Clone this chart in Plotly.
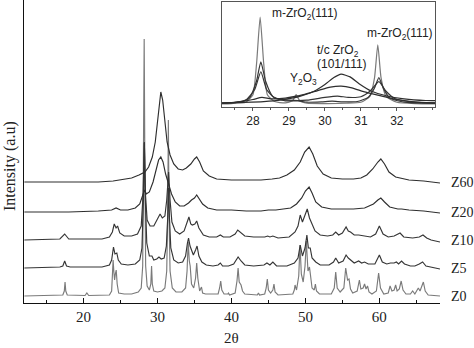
import plotly.graph_objects as go

# XRD patterns: (2theta, intensity above each pattern's own baseline, a.u.)
z0_pts = [(12.0,0),(16.5,0.5),(17.2,1),(17.4,5),(17.5,14),(17.6,5),(17.8,1),
          (20.2,0.5),(20.45,3),(20.7,0.5),
          (23.5,1),(23.8,5),(23.93,25),(24.0,36),(24.1,24),(24.2,16),(24.3,22),(24.42,26),(24.55,12),(24.75,3),
          (25.5,2),(26.5,2),(27.4,4),(27.8,8),(28.0,30),(28.1,120),(28.2,257),(28.3,120),(28.4,30),(28.6,10),(28.9,6),
          (29.1,12),(29.2,30),(29.3,12),(29.5,5),(30.0,4),(30.6,5),(31.0,8),(31.25,25),(31.38,80),(31.47,176),(31.56,80),
          (31.7,25),(32.0,8),(32.5,4),(33.3,4),
          (33.8,8),(34.0,25),(34.15,54),(34.3,35),(34.42,30),(34.6,12),(34.9,8),(35.15,18),(35.3,33),(35.45,18),(35.7,5),
          (35.95,9),(36.1,3),(36.5,2),
          (38.2,2),(38.4,8),(38.55,15),(38.7,6),(39.0,2),(39.5,2),(39.6,3),(39.75,1),
          (40.5,3),(40.75,15),(40.9,28),(41.05,14),(41.3,11),(41.5,5),(41.8,2),(43.5,1),(43.65,3),(43.8,1),
          (44.5,2),(44.7,8),(44.85,17),(45.0,6),(45.3,3),(45.6,6),(45.75,12),(45.9,4),(46.3,1),
          (48.3,2),(48.5,6),(48.6,11),(48.8,6),(49.1,20),(49.27,51),(49.45,22),(49.7,14),(49.95,30),(50.12,55),(50.35,25),
          (50.55,29),(50.7,20),(50.9,8),(51.2,6),(51.35,12),(51.5,5),(51.9,2),(53.5,2),
          (53.9,8),(54.1,24),(54.3,8),(54.7,4),(55.2,8),(55.45,28),(55.7,16),(55.9,17),(56.1,7),(56.4,3),(57.0,5),(57.3,16),
          (57.5,7),(57.8,8),(58.0,12),(58.2,7),(58.4,10),(58.6,4),(59.0,2),(59.6,5),(59.9,23),(60.15,8),(60.6,2),
          (61.2,3),(61.45,10),(61.7,5),(62.0,6),(62.2,11),(62.4,5),(62.7,7),(62.95,15),(63.2,6),(63.6,2),(64.2,2),(64.5,5),
          (64.8,2),(65.1,6),(65.27,8),(65.5,5),(65.75,10),(65.95,14),(66.2,5),(66.6,1),(68.2,0)]

z5_pts = [(12.0,0),(16.8,1),(17.2,2),(17.45,7),(17.7,2),(18.2,1),(22.5,1),(23.5,3),(23.8,8),(24.05,21),(24.25,14),
          (24.5,15),(24.7,8),(25.1,4),(26.0,3),(27.0,4),(27.6,8),(27.9,20),(28.1,70),(28.22,126),(28.35,70),(28.55,25),
          (28.9,12),(29.25,12),(29.5,8),(29.9,9),(30.2,11),(30.5,9),(30.9,10),(31.2,22),(31.38,50),(31.5,80),(31.62,50),
          (31.8,20),(32.2,8),(32.8,5),(33.4,6),(33.8,12),(34.05,25),(34.2,30),(34.4,22),(34.6,18),(34.85,13),(35.15,18),
          (35.35,22),(35.6,12),(36.0,6),(36.6,3),(37.5,2),(38.2,3),(38.5,5),(38.8,2),(39.6,2),(40.3,4),(40.7,9),(40.9,11),
          (41.3,7),(41.8,3),(43.0,2),(44.4,3),(44.8,5),(45.2,3),(45.6,6),(46.1,2),(47.5,2),(48.5,5),(49.0,10),(49.3,23),
          (49.6,12),(49.95,20),(50.2,33),(50.4,20),(50.65,20),(50.9,10),(51.4,6),(52.0,3),(53.2,3),(53.8,6),(54.1,10),
          (54.5,5),(55.1,7),(55.5,13),(55.8,10),(56.1,8),(56.6,5),(57.2,7),(57.6,5),(58.0,6),(58.5,4),(59.4,4),(59.8,10),
          (60.0,13),(60.4,6),(61.0,4),(61.5,5),(62.0,5),(62.3,6),(62.6,4),(63.0,7),(63.4,4),(64.2,2),(64.8,2),(65.4,4),
          (65.85,6),(66.3,2),(67.0,1),(68.2,-1)]

z10_pts = [(12.0,0),(16.8,1),(17.45,6),(18.0,1),(22.5,1),(23.5,3),(23.9,8),(24.15,16),(24.4,12),(24.6,14),(24.9,7),
           (25.5,4),(26.5,4),(27.3,6),(27.8,14),(28.05,45),(28.22,97),(28.38,45),(28.6,20),(29.0,14),(29.5,14),(30.0,22),
           (30.35,26),(30.65,22),(31.0,24),(31.25,40),(31.5,68),(31.7,40),(31.95,18),(32.4,9),(33.0,6),(33.6,9),(34.0,18),
           (34.25,23),(34.5,16),(34.7,15),(35.05,16),(35.3,19),(35.6,12),(36.2,5),(37.0,3),(38.0,3),(38.5,5),(38.9,3),
           (39.8,3),(40.5,6),(40.85,10),(41.3,7),(41.8,4),(43.0,3),(44.5,3),(44.9,4),(45.2,3),(45.6,4),(46.3,2),(47.8,3),
           (48.6,8),(49.0,14),(49.3,25),(49.6,18),(50.0,25),(50.25,31),(50.55,22),(50.8,17),(51.3,9),(52.0,5),(53.0,4),
           (53.7,5),(54.1,8),(54.5,5),(55.0,7),(55.5,13),(55.8,9),(56.1,8),(56.6,5),(57.2,5),(58.0,4),(58.8,3),(59.5,6),
           (60.0,14),(60.5,6),(61.2,3),(62.0,4),(62.8,7),(63.3,3),(64.5,2),(65.4,3),(65.9,5),(66.4,2),(67.0,0),(68.2,-2)]

z20_pts = [(12.0,0),(18.0,0),(22.0,1),(23.8,2),(24.4,4),(25.0,2),(26.0,2),(27.0,4),(27.6,8),(28.0,16),(28.25,22),
           (28.5,18),(28.9,20),(29.4,30),(29.8,42),(30.15,52),(30.45,55),(30.75,50),(31.1,38),(31.5,28),(31.9,18),
           (32.4,10),(33.0,6),(33.6,6),(34.2,9),(34.6,12),(35.0,14),(35.3,17),(35.6,14),(36.1,8),(36.8,4),(38.0,2),
           (40.0,2),(42.0,1),(44.0,1),(45.0,2),(46.0,2),(47.0,3),(48.0,4),(48.8,8),(49.5,14),(50.0,21),(50.5,25),
           (50.9,19),(51.4,10),(52.2,5),(53.5,3),(55.0,3),(56.5,3),(58.0,4),(59.2,8),(59.8,12),(60.2,14),(60.7,10),
           (61.4,5),(62.5,3),(63.0,3),(64.0,2),(66.0,1),(68.2,-1)]

z60_pts = [(12.0,0),(18.0,0),(22.0,0),(24.0,1),(25.5,3),(26.5,4),(27.5,7),(28.3,10),(28.8,15),(29.3,25),(29.7,40),
           (30.0,60),(30.25,80),(30.45,90),(30.7,82),(30.95,62),(31.3,40),(31.7,27),(32.2,18),(32.8,13),(33.4,12),
           (33.9,14),(34.5,18),(35.0,23),(35.3,25),(35.7,20),(36.2,11),(37.0,6),(38.0,3),(40.0,2),(42.0,2),(44.0,2),
           (45.5,3),(46.5,4),(47.5,7),(48.5,12),(49.3,20),(49.9,30),(50.5,35),(51.0,28),(51.6,16),(52.4,8),(53.5,4),
           (55.0,3),(56.5,3),(57.5,4),(58.3,7),(59.1,13),(59.8,20),(60.2,23),(60.7,18),(61.3,10),(62.2,5),(63.0,4),
           (64.0,2),(66.0,1),(68.2,-1)]

samples = ["Z0", "Z5", "Z10", "Z20", "Z60"]
patterns = [z0_pts, z5_pts, z10_pts, z20_pts, z60_pts]
stack_offsets = [7, 35, 63, 91, 121]
line_colors = ["#7a7a7a", "#353535", "#353535", "#2e2e2e", "#2e2e2e"]

inset_ticks = [28, 29, 30, 31, 32]
main_ticks = [20, 30, 40, 50, 60]

serif = "Liberation Serif"
sans = "Liberation Sans"

fig = go.Figure()

# stacked patterns in the main panel
for name, pts, off, col in zip(samples, patterns, stack_offsets, line_colors):
    fig.add_trace(go.Scatter(
        x=[p[0] for p in pts], y=[p[1] + off for p in pts],
        mode="lines", line=dict(color=col, width=1.15), name=name,
        showlegend=False, xaxis="x", yaxis="y"))

# the same patterns overlaid without offsets in the inset (27-33 deg)
for name, pts, col in zip(samples, patterns, line_colors):
    sel = [p for p in pts if 26.5 <= p[0] <= 33.8]
    fig.add_trace(go.Scatter(
        x=[p[0] for p in sel], y=[p[1] for p in sel],
        mode="lines", line=dict(color=col, width=1.2, shape="spline", smoothing=0.5),
        name=name, showlegend=False, xaxis="x2", yaxis="y2", cliponaxis=True))

L, R, T, B = 24, 34, 0, 45
W, H = 474, 348
pw, ph = W - L - R, H - T - B


def px_x(px):
    return (px - L) / pw


def px_y(py):
    return 1 - (py - T) / ph


annotations = []
for name, off in zip(samples, stack_offsets):
    annotations.append(dict(x=px_x(449), y=off, xref="paper", yref="y", text=name,
                            showarrow=False, xanchor="left", yanchor="middle",
                            font=dict(family=serif, size=14, color="#222")))

annotations += [
    dict(x=px_x(231), y=px_y(338), xref="paper", yref="paper", text="2θ", showarrow=False,
         xanchor="center", yanchor="middle", font=dict(family=serif, size=15, color="#222")),
    dict(x=px_x(10), y=px_y(166), xref="paper", yref="paper", text="Intensity (a.u)", showarrow=False,
         textangle=-90, xanchor="center", yanchor="middle", font=dict(family=serif, size=16, color="#222")),
    dict(x=px_x(305), y=px_y(14), xref="paper", yref="paper", text="m-ZrO<sub>2</sub>(111)", showarrow=False,
         xanchor="center", yanchor="middle", font=dict(family=sans, size=12, color="#222")),
    dict(x=px_x(400), y=px_y(34), xref="paper", yref="paper", text="m-ZrO<sub>2</sub>(111)", showarrow=False,
         xanchor="center", yanchor="middle", font=dict(family=sans, size=12, color="#222")),
    dict(x=px_x(338), y=px_y(51), xref="paper", yref="paper", text="t/c ZrO<sub>2</sub>", showarrow=False,
         xanchor="center", yanchor="middle", font=dict(family=sans, size=12, color="#222")),
    dict(x=px_x(342), y=px_y(64), xref="paper", yref="paper", text="(101/111)", showarrow=False,
         xanchor="center", yanchor="middle", font=dict(family=sans, size=12, color="#222")),
    dict(x=px_x(303), y=px_y(79), xref="paper", yref="paper", text="Y<sub>2</sub>O<sub>3</sub>", showarrow=False,
         xanchor="center", yanchor="middle", font=dict(family=sans, size=12, color="#222")),
]

fig.update_layout(
    width=W, height=H,
    margin=dict(l=L, r=R, t=T, b=B),
    paper_bgcolor="white", plot_bgcolor="white",
    xaxis=dict(range=[11.95, 68.2], showline=True, linecolor="#111", linewidth=1.3,
               ticks="inside", ticklen=5, tickcolor="#111", tickwidth=1.2,
               tickvals=main_ticks, showgrid=False, zeroline=False,
               minor=dict(dtick=5, tick0=0, ticks="inside", ticklen=3, tickcolor="#111", showgrid=False),
               tickfont=dict(family=serif, size=15, color="#222")),
    yaxis=dict(range=[0, 303], showline=True, linecolor="#111", linewidth=1.3,
               showticklabels=False, ticks="", showgrid=False, zeroline=False),
    xaxis2=dict(domain=[px_x(222), px_x(435)], anchor="y2", range=[27.14, 33.06],
                showline=True, mirror=True, linecolor="#555", linewidth=1,
                ticks="outside", ticklen=3, tickcolor="#555", tickvals=inset_ticks,
                minor=dict(dtick=0.5, tick0=0, ticks="outside", ticklen=2, tickcolor="#555", showgrid=False),
                showgrid=False, zeroline=False,
                tickfont=dict(family=sans, size=12, color="#222")),
    yaxis2=dict(domain=[px_y(107), px_y(2)], anchor="x2", range=[-6, 301],
                showline=True, mirror=True, linecolor="#555", linewidth=1,
                showticklabels=False, ticks="", showgrid=False, zeroline=False),
    annotations=annotations,
)

fig.write_html("out.html")
